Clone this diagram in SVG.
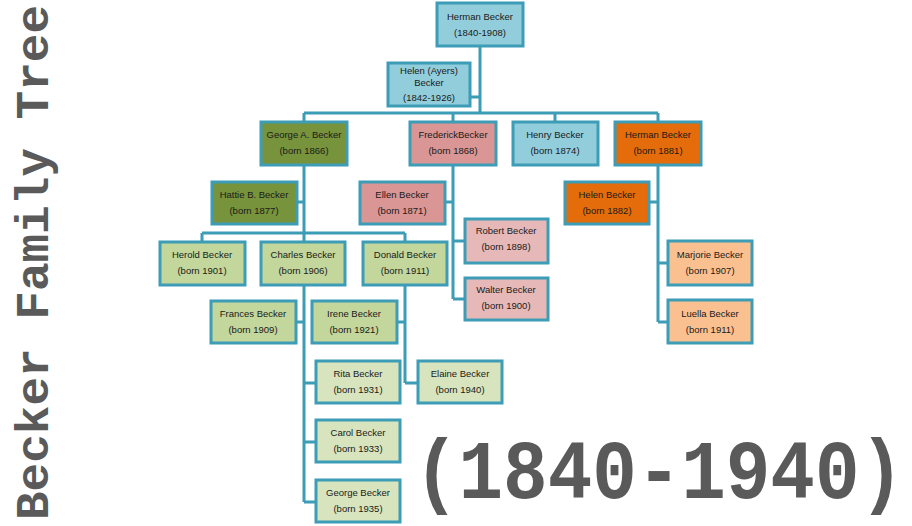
<svg xmlns="http://www.w3.org/2000/svg" width="912" height="526" viewBox="0 0 912 526">
<style>
.n{stroke:#3d9cb6;stroke-width:3}
.t{font-family:"Liberation Sans",Arial,sans-serif;font-size:9.5px;fill:#1a1a1a;text-anchor:middle}
.c{stroke:#3d9cb6;stroke-width:3;fill:none}
.b{fill:#92cddc}.g{fill:#77933c}.p{fill:#d99694}.o{fill:#e46c0a}.lg{fill:#c3d69b}.vg{fill:#d7e4bd}.lp{fill:#e6b9b8}.lo{fill:#fac090}
.big{font-family:"Liberation Mono","DejaVu Sans Mono",monospace;font-weight:bold;fill:#5a5a5a}
</style>
<rect width="912" height="526" fill="#fff"/>
<g id="connectors">
<path class="c" d="M480 46V113M470 97H480M304 113H658M304 113V122M453 113V122M555 113V122M658 113V122"/>
<path class="c" d="M304 165V233M297 202H304M202 233H405M202 233V241M304 233V241M405 233V241"/>
<path class="c" d="M453 165V299M445 202H453M453 241H465M453 299H465"/>
<path class="c" d="M658 165V322M649 202H658M658 263H668M658 322H668"/>
<path class="c" d="M304 285V502M296 322H304M304 383H316M304 442H316M304 502H316"/>
<path class="c" d="M405 285V383M397 322H405M405 383H418"/>
</g>
<g id="herman"><rect class="n b" x="437" y="3" width="86" height="43"/><text class="t" x="480" y="20">Herman Becker</text><text class="t" x="480" y="36">(1840-1908)</text></g>
<g id="helen"><rect class="n b" x="388" y="63" width="82" height="43"/><text class="t" x="429" y="74">Helen (Ayers)</text><text class="t" x="429" y="86">Becker</text><text class="t" x="429" y="101">(1842-1926)</text></g>
<g id="george"><rect class="n g" x="261" y="122" width="86" height="43"/><text class="t" x="304" y="138">George A. Becker</text><text class="t" x="304" y="154">(born 1866)</text></g>
<g id="frederick"><rect class="n p" x="410" y="122" width="86" height="43"/><text class="t" x="453" y="138">FrederickBecker</text><text class="t" x="453" y="154">(born 1868)</text></g>
<g id="henry"><rect class="n b" x="513" y="122" width="85" height="43"/><text class="t" x="555" y="138">Henry Becker</text><text class="t" x="555" y="154">(born 1874)</text></g>
<g id="herman2"><rect class="n o" x="615" y="122" width="86" height="43"/><text class="t" x="658" y="138">Herman Becker</text><text class="t" x="658" y="154">(born 1881)</text></g>
<g id="hattie"><rect class="n g" x="212" y="182" width="85" height="42"/><text class="t" x="254" y="198">Hattie B. Becker</text><text class="t" x="254" y="214">(born  1877)</text></g>
<g id="ellen"><rect class="n p" x="360" y="182" width="85" height="42"/><text class="t" x="402" y="198">Ellen Becker</text><text class="t" x="402" y="214">(born 1871)</text></g>
<g id="helen2"><rect class="n o" x="565" y="182" width="84" height="42"/><text class="t" x="607" y="198">Helen Becker</text><text class="t" x="607" y="214">(born 1882)</text></g>
<g id="robert"><rect class="n lp" x="465" y="219" width="83" height="44"/><text class="t" x="506" y="234">Robert Becker</text><text class="t" x="506" y="250">(born 1898)</text></g>
<g id="walter"><rect class="n lp" x="465" y="278" width="83" height="42"/><text class="t" x="506" y="293">Walter Becker</text><text class="t" x="506" y="309">(born 1900)</text></g>
<g id="marjorie"><rect class="n lo" x="668" y="241" width="84" height="44"/><text class="t" x="710" y="258">Marjorie Becker</text><text class="t" x="710" y="274">(born 1907)</text></g>
<g id="luella"><rect class="n lo" x="668" y="300" width="84" height="43"/><text class="t" x="710" y="317">Luella Becker</text><text class="t" x="710" y="333">(born 1911)</text></g>
<g id="herold"><rect class="n lg" x="160" y="242" width="85" height="43"/><text class="t" x="202" y="258">Herold Becker</text><text class="t" x="202" y="274">(born  1901)</text></g>
<g id="charles"><rect class="n lg" x="261" y="242" width="84" height="43"/><text class="t" x="303" y="258">Charles Becker</text><text class="t" x="303" y="274">(born 1906)</text></g>
<g id="donald"><rect class="n lg" x="363" y="242" width="84" height="43"/><text class="t" x="405" y="258">Donald Becker</text><text class="t" x="405" y="274">(born 1911)</text></g>
<g id="frances"><rect class="n lg" x="211" y="301" width="85" height="42"/><text class="t" x="253" y="317">Frances Becker</text><text class="t" x="253" y="333">(born  1909)</text></g>
<g id="irene"><rect class="n lg" x="312" y="301" width="85" height="42"/><text class="t" x="354" y="317">Irene Becker</text><text class="t" x="354" y="333">(born 1921)</text></g>
<g id="rita"><rect class="n vg" x="316" y="361" width="84" height="42"/><text class="t" x="358" y="377">Rita Becker</text><text class="t" x="358" y="393">(born 1931)</text></g>
<g id="elaine"><rect class="n vg" x="418" y="361" width="84" height="42"/><text class="t" x="460" y="377">Elaine Becker</text><text class="t" x="460" y="393">(born 1940)</text></g>
<g id="carol"><rect class="n vg" x="316" y="420" width="84" height="42"/><text class="t" x="358" y="436">Carol Becker</text><text class="t" x="358" y="452">(born 1933)</text></g>
<g id="george2"><rect class="n vg" x="316" y="480" width="84" height="42"/><text class="t" x="358" y="496">George Becker</text><text class="t" x="358" y="512">(born 1935)</text></g>
<text class="big" font-size="46" transform="translate(48,520) rotate(-90)" textLength="515" lengthAdjust="spacingAndGlyphs">Becker Family Tree</text>
<text class="big" font-size="84" x="414" y="498" textLength="490" lengthAdjust="spacingAndGlyphs">(1840-1940)</text>
</svg>
